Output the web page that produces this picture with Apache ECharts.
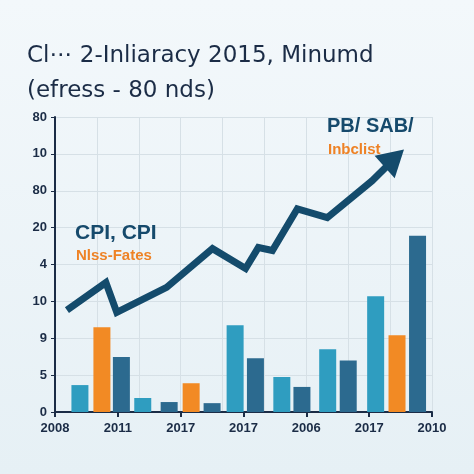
<!DOCTYPE html>
<html>
<head>
<meta charset="utf-8">
<script src="https://cdn.jsdelivr.net/npm/echarts@6/dist/echarts.min.js"></script>
<style>
  html, body { margin: 0; padding: 0; }
  body { background: linear-gradient(#f3f8fb, #e6f0f5); }
  #chart { width: 474px; height: 474px; }
</style>
</head>
<body>
<div id="chart"></div>
<script>
// y-axis tick labels (bottom to top), as printed
var yLabels = ['0', '5', '9', '10', '4', '20', '80', '10', '80'];
// x-axis labels
var xLabels = ['2008', '2011', '2017', '2017', '2006', '2017', '2010'];

// bars: [x position, height] in axis units
var tealBars = [[1.19, 0.73], [4.19, 0.38], [8.6, 2.35], [10.83, 0.95], [13.02, 1.7], [15.31, 3.14]];
var orangeBars = [[2.24, 2.3], [6.5, 0.78], [16.33, 2.08]];
var darkBars = [[3.17, 1.49], [5.45, 0.27], [7.5, 0.24], [9.57, 1.46], [11.79, 0.68], [14.0, 1.4], [17.31, 4.78]];

// trend line
var trendLine = [[0.57, 2.76], [2.43, 3.51], [2.95, 2.7], [5.33, 3.38], [7.52, 4.43], [9.1, 3.89],
    [9.71, 4.46], [10.38, 4.38], [11.57, 5.51], [13.0, 5.27], [15.14, 6.27], [16.0, 6.75]];
var arrowHead = [[16.2, 6.88]];

var chart = echarts.init(document.getElementById('chart'));

function barSeries(data, color) {
    return {
        type: 'bar',
        data: data,
        barWidth: 17,
        barGap: '-100%',
        itemStyle: { color: color },
        z: 2
    };
}

var option = {
    backgroundColor: 'transparent',
    title: {
        text: 'Cl⋯ 2-Inliaracy 2015, Minumd\n(efress - 80 nds)',
        left: 22,
        top: 34,
        textStyle: {
            color: '#1b2c46',
            fontSize: 23,
            fontWeight: 500,
            fontFamily: 'DejaVu Sans',
            lineHeight: 35
        }
    },
    grid: { left: 55, right: 42, top: 117, bottom: 62 },
    xAxis: [{
        type: 'value',
        min: 0,
        max: 18,
        interval: 2,
        axisLine: { show: false },
        axisTick: { show: false },
        axisLabel: { show: false },
        splitLine: { show: true, lineStyle: { color: '#d6e0e6', width: 1 } }
    }, {
        type: 'category',
        data: xLabels,
        boundaryGap: false,
        position: 'bottom',
        axisLine: { show: true, lineStyle: { color: '#1b2c46', width: 2 } },
        axisTick: { show: true, length: 5, lineStyle: { color: '#1b2c46', width: 2 } },
        axisLabel: { color: '#1b2c46', fontSize: 13, fontWeight: 'bold', margin: 10, fontFamily: 'Liberation Sans' },
        splitLine: { show: false }
    }],
    yAxis: {
        type: 'value',
        min: 0,
        max: 8,
        interval: 1,
        axisLine: { show: true, lineStyle: { color: '#1b2c46', width: 2 } },
        axisTick: { show: true, length: 4, lineStyle: { color: '#1b2c46' } },
        axisLabel: {
            color: '#1b2c46', fontSize: 13, fontWeight: 'bold', fontFamily: 'Liberation Sans',
            formatter: function (v) { return yLabels[Math.round(v)]; }
        },
        splitLine: { show: true, lineStyle: { color: '#d6e0e6', width: 1 } }
    },
    series: [
        barSeries(tealBars, '#2f9dc0'),
        barSeries(orangeBars, '#f28a24'),
        barSeries(darkBars, '#2c6a8f'),
        {
            type: 'line',
            data: trendLine,
            symbol: 'none',
            lineStyle: { color: '#144b6c', width: 7, join: 'miter' },
            z: 3
        },
        {
            type: 'scatter',
            data: arrowHead,
            symbol: 'triangle',
            symbolSize: [30, 26],
            symbolRotate: -48,
            itemStyle: { color: '#144b6c', opacity: 1 },
            z: 4
        }
    ],
    graphic: [
        { type: 'text', z: 100, left: 75, top: 223, style: { text: 'CPI, CPI', fill: '#164a6c', font: 'bold 21px Liberation Sans' } },
        { type: 'text', z: 100, left: 76, top: 248, style: { text: 'Nlss-Fates', fill: '#ee8225', font: 'bold 15px Liberation Sans' } },
        { type: 'text', z: 100, left: 327, top: 116, style: { text: 'PB/ SAB/', fill: '#164a6c', font: 'bold 20px Liberation Sans' } },
        { type: 'text', z: 100, left: 328, top: 142, style: { text: 'Inbclist', fill: '#ee8225', font: 'bold 15px Liberation Sans' } }
    ]
};

chart.setOption(option);
</script>
</body>
</html>
